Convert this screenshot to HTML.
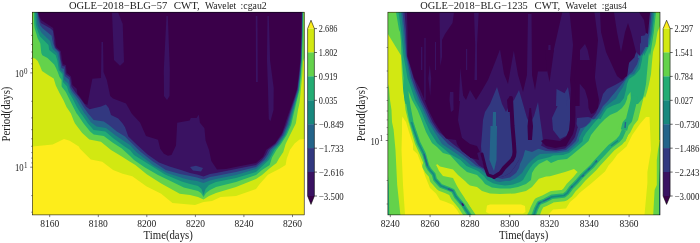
<!DOCTYPE html>
<html><head><meta charset="utf-8"><title>CWT</title>
<style>
html,body{margin:0;padding:0;background:#fff;}
svg{display:block;}
text{font-family:"Liberation Serif","DejaVu Serif",serif;fill:#222;}
</style></head><body>
<svg width="700" height="243" viewBox="0 0 700 243">
<defs><clipPath id="rclip"><rect x="387.9" y="12.2" width="272.1" height="202.7"/></clipPath></defs>
<rect width="700" height="243" fill="#fff"/>
<rect x="32.4" y="12.2" width="271.8" height="202.7" fill="#fded1b"/>
<polygon points="32.4,146.6 52.7,144.6 64.0,139.0 69.7,140.8 78.8,146.5 80.0,148.7 90.8,159.5 102.3,161.7 113.1,170.0 122.7,173.8 132.3,176.3 146.7,186.6 161.2,193.8 172.5,203.0 195.0,205.0 203.5,202.0 212.0,201.0 220.6,197.0 236.0,196.0 256.0,189.0 259.7,184.0 267.9,174.7 280.0,168.5 285.6,165.0 286.7,158.8 290.0,149.7 294.6,143.5 299.5,139.5 304.2,139.0 304.2,12.2 32.4,12.2" fill="#d2e812" />
<polygon points="32.4,57.9 35.1,58.4 37.7,61.0 40.0,66.0 42.0,71.0 48.0,75.0 53.7,78.6 55.9,85.8 59.5,93.0 63.6,100.6 66.5,107.1 70.9,113.6 73.7,120.8 75.0,123.6 82.2,133.0 89.4,139.5 100.9,141.7 111.0,150.0 121.8,156.6 130.0,161.7 135.4,165.0 146.7,174.3 161.2,183.5 179.7,193.8 190.0,195.0 198.0,197.0 203.5,199.5 209.0,196.0 216.0,193.0 236.0,187.0 256.0,179.0 262.0,175.0 270.0,168.0 276.5,163.0 278.8,158.8 283.3,152.0 285.6,144.0 290.0,135.0 295.8,123.6 298.0,110.0 299.6,102.4 301.0,88.0 302.3,75.0 303.0,62.0 304.2,58.0 304.2,12.2 32.4,12.2" fill="#64d24b" />
<polygon points="33.9,12.2 34.1,24.0 34.6,28.0 37.7,38.3 40.3,43.4 41.3,53.0 42.3,55.3 47.5,57.9 54.2,64.5 55.9,67.8 58.0,72.8 59.5,77.1 61.6,80.0 61.6,86.5 65.8,92.0 69.4,99.2 73.0,106.4 76.6,113.6 77.9,115.0 83.6,123.6 90.1,131.6 93.7,134.5 103.8,135.9 112.5,142.4 121.8,148.5 130.0,155.9 134.0,160.0 145.0,167.5 158.0,175.0 175.6,183.5 183.8,187.6 190.0,189.0 198.0,191.0 201.0,193.0 203.5,197.0 206.0,193.0 210.0,190.0 216.0,187.0 236.0,182.0 256.0,175.0 262.0,170.0 269.7,165.0 272.0,157.6 276.5,149.7 281.0,144.0 286.7,135.0 291.2,124.7 294.6,110.0 297.0,100.0 299.5,90.0 301.0,75.0 302.0,60.0 302.7,36.0 303.0,12.2" fill="#23ac73" />
<polygon points="35.1,12.2 35.8,24.4 36.7,28.0 39.8,36.2 48.5,45.0 49.2,50.1 55.7,55.3 57.3,60.4 58.8,70.0 62.5,74.5 63.0,82.0 67.0,86.5 68.7,92.0 73.0,99.2 76.6,106.4 80.9,113.6 82.2,115.0 88.0,123.6 93.7,130.1 105.3,131.6 113.9,138.8 125.0,146.7 130.0,150.1 134.0,155.0 150.0,165.0 165.0,174.5 181.7,181.5 190.0,184.0 198.0,186.0 201.5,189.0 203.5,195.0 205.5,189.0 209.0,185.0 216.0,182.0 236.0,178.0 256.0,172.0 268.9,160.0 271.6,155.0 274.5,149.7 279.6,144.0 285.5,135.0 289.9,124.7 291.4,119.0 293.6,110.0 296.3,100.0 298.9,90.0 300.5,75.0 301.7,60.0 302.4,36.0 302.7,12.2" fill="#18887e" />
<polygon points="36.4,12.2 37.5,24.4 38.7,28.0 41.8,33.1 50.1,40.9 51.3,45.0 52.8,49.0 57.3,53.2 58.8,60.4 60.3,70.0 63.5,73.0 64.0,80.0 68.0,83.5 70.9,92.0 75.9,99.2 80.2,106.4 84.5,113.6 85.8,115.0 90.9,122.2 96.6,126.5 106.0,128.0 115.3,135.2 125.0,141.7 130.0,145.1 136.3,152.0 153.0,165.0 167.0,173.0 184.0,178.5 190.0,180.0 197.0,181.0 203.5,183.0 210.0,180.5 216.0,179.0 236.0,175.0 256.0,169.0 266.6,160.0 269.7,155.0 272.4,149.7 278.2,144.0 284.3,135.0 288.7,124.7 290.2,119.0 292.7,110.0 295.6,100.0 298.3,90.0 300.1,75.0 301.3,60.0 302.1,36.0 302.5,12.2" fill="#24648a" />
<polygon points="37.4,12.2 38.7,20.3 40.3,25.4 42.3,28.0 51.6,35.7 52.3,40.0 53.1,43.4 53.7,45.0 54.7,48.1 58.8,52.2 60.3,60.4 61.4,68.0 64.0,69.0 64.7,76.0 69.0,79.5 70.4,88.0 73.0,92.0 78.8,99.2 83.1,106.4 88.1,113.6 89.4,115.0 93.7,120.0 103.8,121.5 108.9,125.1 116.8,131.6 125.0,136.6 130.0,141.5 140.8,152.0 152.2,161.0 165.8,170.0 180.0,174.0 190.0,176.0 197.0,177.5 203.5,179.5 210.0,177.0 216.0,176.0 236.0,172.0 256.0,167.0 264.2,160.0 267.7,155.0 270.4,149.7 276.8,144.0 283.1,135.0 287.4,124.7 289.0,119.0 291.7,110.0 294.8,100.0 297.8,90.0 299.6,75.0 301.0,60.0 301.8,36.0 302.2,12.2" fill="#323880" />
<polygon points="37.9,12.2 38.9,17.0 40.8,23.0 50.6,28.5 53.1,31.0 53.8,38.8 54.5,45.0 55.5,48.0 59.8,51.8 60.8,60.0 62.5,66.0 65.0,66.5 65.7,74.0 70.0,77.6 71.4,86.2 75.2,92.0 80.9,99.2 86.0,106.4 89.6,109.3 101.1,106.4 105.9,104.4 108.7,108.0 111.0,115.0 118.2,118.6 122.6,123.6 125.0,127.2 126.0,130.0 128.3,136.5 136.3,144.3 147.6,154.5 159.0,162.4 169.5,166.5 181.0,170.0 190.0,173.0 197.0,174.5 203.5,176.5 210.0,174.0 216.0,173.0 236.0,169.0 256.0,165.0 261.9,160.0 265.8,155.0 268.3,149.7 275.3,144.0 281.9,135.0 286.1,124.7 287.9,119.0 290.8,110.0 294.1,100.0 297.2,90.0 299.2,75.0 300.6,60.0 301.5,36.0 302.0,12.2" fill="#3a1262" />
<polygon points="38.2,12.2 39.3,16.2 41.3,20.3 53.1,28.0 54.2,35.0 55.2,38.8 55.7,45.0 56.7,47.6 60.9,51.2 61.9,59.4 63.0,64.2 65.9,64.9 66.7,72.8 71.0,76.4 72.4,85.0 76.7,88.7 77.5,94.0 79.5,96.3 84.5,103.5 87.4,105.0 89.6,93.0 92.4,78.8 101.0,78.0 101.5,42.0 103.0,42.0 103.5,72.0 106.8,80.0 110.2,95.9 113.0,98.6 126.0,103.6 131.8,113.7 140.0,122.4 146.0,135.9 158.0,139.7 160.2,148.8 163.9,153.8 167.9,155.8 171.5,155.0 176.0,145.4 177.2,122.7 189.7,120.4 190.8,118.1 196.5,118.1 198.8,114.7 199.9,122.7 204.4,128.3 205.6,140.8 209.0,149.9 211.3,161.0 217.0,169.5 226.0,169.0 238.0,166.5 256.0,163.0 263.0,157.0 266.3,149.7 275.4,142.9 282.2,132.7 286.7,119.0 291.0,106.7 294.6,96.6 297.2,88.0 300.2,62.0 301.1,38.0 301.7,12.2" fill="#3a0049" />
<polygon points="112.0,12.2 118.0,12.2 122.7,24.0 124.0,61.9 120.0,65.8 114.0,59.9" fill="#3a1262" />
<polygon points="166.5,16.0 167.8,16.0 169.8,70.0 169.5,96.0 167.0,100.0 164.0,96.0 163.8,70.0" fill="#3a1262" />
<polygon points="255.8,16.0 257.4,16.0 257.8,82.0 256.0,82.0" fill="#3a1262" />
<polygon points="267.5,16.0 268.8,16.0 270.0,60.0 273.7,88.0 273.5,110.0 270.5,121.0 268.8,119.0 268.0,88.0 267.0,60.0" fill="#3a1262" />
<polygon points="190.0,167.0 196.0,165.7 203.0,168.0 201.0,171.5 193.0,170.5" fill="#323880" />
<rect x="32.40" y="12.20" width="271.80" height="202.70" fill="none" stroke="#000" stroke-width="0.55"/>
<rect x="387.9" y="12.2" width="272.1" height="202.7" fill="#d2e812"/>
<g clip-path="url(#rclip)">
<polygon points="402.5,116.5 404.5,120.0 406.0,122.0 409.0,132.0 413.0,144.0 413.1,150.0 417.5,154.0 422.0,166.0 425.1,176.0 430.0,188.0 436.0,193.5 440.0,200.0 446.0,202.0 453.0,205.0 457.0,210.0 460.0,214.9 405.0,214.9 403.0,185.0 401.5,150.0 402.0,132.0 402.0,120.0" fill="#fded1b" />
<polygon points="487.0,205.5 490.0,204.6 521.0,204.6 525.0,206.0 525.5,212.0 523.0,213.6 489.0,213.6 486.0,212.0" fill="#fded1b" />
<polygon points="646.0,117.0 649.5,117.0 651.0,150.0 647.4,172.0 647.4,183.0 644.5,214.9 547.0,214.9 550.0,213.0 553.0,209.5 566.0,208.5 570.0,202.0 576.0,197.0 579.5,193.0 591.8,183.0 605.0,171.5 608.5,165.5 612.6,161.0 617.3,154.5 626.5,146.5 632.2,135.0 640.3,123.4" fill="#fded1b" />
<polygon points="387.9,84.0 389.0,88.0 390.0,100.0 391.5,110.0 392.0,122.0 393.6,129.4 395.5,150.0 397.2,185.0 400.4,214.9 387.9,214.9" fill="#64d24b" />
<polygon points="387.9,175.0 388.8,185.0 389.3,214.9 387.9,214.9" fill="#23ac73" />
<polygon points="660.0,60.0 659.2,70.0 659.0,140.0 660.0,140.0" fill="#64d24b" />
<polygon points="660.0,140.0 658.0,150.0 656.8,160.0 656.8,185.0 654.6,190.0 653.2,214.9 660.0,214.9" fill="#64d24b" />
<polygon points="660.0,168.0 659.0,185.0 659.0,214.9 660.0,214.9" fill="#18887e" />
<polygon points="387.9,12.2 387.9,34.0 401.0,55.5 402.0,78.0 403.0,88.0 404.5,100.0 405.5,110.0 408.0,120.0 411.5,132.0 415.0,144.0 419.5,154.0 424.5,166.0 428.0,169.0 433.0,170.0 437.0,164.0 440.0,166.5 453.0,169.5 458.0,175.0 465.0,181.0 468.0,184.0 470.0,185.5 477.0,187.0 482.0,191.0 490.0,193.5 500.0,194.0 515.0,193.5 526.0,191.0 532.0,187.0 538.9,178.8 546.1,176.6 550.0,176.3 565.0,171.9 574.0,169.1 580.0,174.0 586.0,172.5 591.8,166.9 598.7,160.0 615.0,139.6 621.0,137.0 625.0,142.0 628.0,135.0 630.0,133.0 634.0,125.0 638.0,120.0 641.0,108.0 644.0,96.0 645.0,98.0 647.0,92.0 649.0,84.0 651.0,74.0 652.0,62.0 653.0,52.0 655.5,44.0 657.5,32.0 660.0,26.0 660.0,12.2" fill="#64d24b" />
<polygon points="396.0,12.2 399.0,30.0 400.0,32.0 401.0,42.0 401.5,56.0 403.5,78.0 403.0,88.0 404.5,100.0 405.5,104.0 409.5,104.0 408.5,91.0 412.0,100.0 417.5,110.0 421.5,120.0 426.0,132.0 432.0,143.0 437.0,147.0 443.0,153.0 450.0,155.0 455.0,160.5 460.0,166.0 467.0,172.0 477.0,175.0 482.0,180.0 485.0,184.0 492.0,187.5 500.0,188.5 510.0,188.5 518.0,187.0 526.0,184.0 531.0,180.0 532.0,173.0 535.0,168.0 539.0,164.0 547.0,160.0 551.0,163.0 558.0,160.0 567.0,159.0 572.0,155.0 578.0,150.0 584.0,145.0 588.5,141.0 591.0,135.0 595.0,130.0 600.0,124.0 605.0,119.0 610.0,115.0 617.0,112.0 622.0,108.0 625.0,104.0 627.0,99.0 627.5,96.0 630.5,92.0 631.0,104.0 638.0,104.0 643.0,98.0 644.0,94.0 646.0,84.0 646.8,75.0 648.0,62.0 649.0,52.0 650.0,56.0 652.0,44.0 653.7,33.0 656.0,12.2" fill="#23ac73" />
<polygon points="398.5,12.2 401.0,30.0 403.5,56.0 407.5,78.0 411.0,88.0 415.0,100.0 420.5,110.0 425.5,122.0 430.0,132.0 437.0,143.0 450.0,154.0 460.5,160.0 466.5,166.0 478.0,171.0 484.0,176.0 487.0,180.0 493.0,183.3 498.0,184.5 505.0,185.5 513.0,184.5 520.0,182.0 523.0,180.0 527.0,173.0 530.0,168.0 533.0,164.0 538.0,160.0 550.0,157.0 553.0,155.5 563.0,155.0 569.0,153.0 575.0,148.0 582.5,141.5 583.0,138.0 586.0,133.0 590.0,128.0 594.0,123.0 598.0,118.5 600.5,119.0 604.0,113.0 607.0,108.5 613.0,105.5 620.0,103.0 624.0,98.0 625.0,94.0 626.0,90.0 627.0,84.0 629.0,79.0 635.0,75.0 640.0,69.0 642.0,60.0 643.0,52.0 644.0,56.0 650.0,44.0 652.2,33.0 654.5,12.2" fill="#18887e" />
<polygon points="401.0,12.2 403.0,30.0 405.5,56.0 410.0,78.0 413.5,88.0 418.0,100.0 423.0,110.0 428.5,122.0 434.5,132.0 442.0,144.0 457.0,154.0 465.0,160.0 471.0,165.5 480.0,169.0 486.0,174.0 492.0,178.0 496.0,181.3 500.0,182.0 505.0,181.0 510.0,181.0 516.0,178.0 522.0,173.0 525.0,168.0 528.0,164.0 532.0,160.0 536.0,156.5 540.0,154.0 550.0,153.5 558.0,153.0 568.0,151.5 574.0,146.0 579.0,141.0 579.0,138.0 582.0,132.0 585.0,127.5 590.0,123.0 594.0,118.5 597.0,119.5 601.5,113.0 605.0,107.0 610.0,103.0 616.0,98.5 619.0,93.0 623.0,87.0 626.0,80.0 630.0,75.0 634.0,74.0 638.0,67.0 640.0,60.0 641.0,52.0 642.0,56.0 648.5,44.0 650.9,33.0 653.0,12.2" fill="#24648a" />
<polygon points="402.5,12.2 404.5,30.0 406.5,56.0 411.5,78.0 415.0,88.0 420.0,100.0 425.0,110.0 430.5,122.0 437.0,132.0 448.0,144.0 462.0,154.0 469.5,160.0 476.0,165.5 483.0,169.0 488.0,173.0 493.0,176.5 502.0,179.0 510.0,177.5 516.0,173.0 519.0,168.0 520.0,164.0 522.0,160.0 523.5,156.0 525.0,150.0 527.0,145.0 530.0,143.0 536.0,148.0 546.0,151.0 556.0,151.5 566.0,150.0 572.0,145.0 576.0,141.0 577.0,138.0 579.0,132.0 581.0,127.0 587.0,123.0 591.0,118.5 594.0,119.5 599.0,113.0 603.0,106.0 608.0,101.0 611.0,97.0 614.0,93.5 621.0,85.0 625.0,80.0 628.5,75.0 632.0,72.0 637.0,64.0 638.0,57.0 639.0,52.0 640.5,56.0 647.0,44.0 649.5,33.0 651.5,12.2" fill="#323880" />
<polygon points="404.5,12.2 406.0,30.0 407.0,56.0 413.5,78.0 417.0,88.0 422.0,100.0 427.0,110.0 432.5,122.0 439.0,132.0 453.0,144.0 466.0,154.0 474.0,160.0 479.0,165.5 485.0,169.0 487.5,173.0 490.0,176.0 494.6,177.5 501.0,177.0 505.0,175.8 510.0,173.0 514.0,168.0 516.5,164.0 519.0,160.0 520.0,156.0 521.0,150.0 524.0,144.0 530.0,140.5 536.0,140.0 540.0,145.0 548.0,149.0 556.0,150.0 565.0,148.5 570.0,144.0 573.0,140.0 575.0,137.0 577.5,128.0 584.0,126.0 590.0,120.0 596.0,113.0 599.0,106.0 601.0,101.0 603.0,94.0 607.0,89.0 615.0,85.0 624.0,80.0 625.5,75.0 627.0,76.0 629.0,63.0 634.0,58.0 636.0,52.0 640.0,56.0 640.0,44.0 646.0,33.0 649.8,12.2" fill="#3a1262" />
<polygon points="407.0,12.2 407.5,30.0 407.5,56.0 414.0,78.0 419.5,88.0 424.5,100.0 428.5,110.0 434.5,122.0 441.0,132.0 446.0,138.5 456.0,140.0 457.0,144.0 462.0,151.0 471.0,158.0 479.0,160.0 476.0,148.0 468.0,146.0 462.0,138.0 458.0,120.0 460.0,100.0 462.0,94.0 466.0,100.0 470.0,90.0 476.0,100.0 481.0,92.0 488.0,80.0 494.0,65.0 500.0,49.6 504.0,74.0 508.0,84.0 513.8,50.8 518.0,75.0 523.0,92.0 527.0,75.0 528.0,14.0 531.5,14.0 532.0,75.0 535.0,90.0 538.0,71.5 547.0,71.5 548.5,45.0 550.5,45.0 551.0,62.0 556.0,40.0 562.3,12.2" fill="#3a0049" />
<polygon points="439.5,12.2 454.0,12.2 452.5,23.0 445.0,34.0 442.0,40.0 442.0,66.0 441.9,57.0 440.3,66.0" fill="#3a1262" />
<polygon points="474.0,12.2 478.7,12.2 477.0,45.0 477.0,80.0 474.5,80.0 475.2,45.0" fill="#3a1262" />
<polygon points="424.4,38.0 425.6,38.0 425.6,100.0 424.2,100.0" fill="#3a1262" />
<polygon points="421.0,47.0 422.3,47.0 422.3,70.0 421.0,70.0" fill="#3a1262" />
<polygon points="435.0,42.0 436.0,42.0 436.0,70.0 435.0,70.0" fill="#3a1262" />
<polygon points="466.0,49.0 467.2,49.0 467.2,70.0 466.0,70.0" fill="#3a1262" />
<polygon points="429.8,65.0 431.2,78.4 430.2,96.0 428.4,78.4" fill="#3a1262" />
<polygon points="460.3,68.0 462.6,91.0 463.8,101.0 459.0,101.0" fill="#3a1262" />
<polygon points="450.0,92.0 453.4,92.0 453.5,110.0 451.0,112.0 449.5,100.0" fill="#3a1262" />
<polygon points="569.5,12.2 594.5,12.2 598.0,40.0 594.5,82.0 587.6,50.0 585.0,44.0 580.0,50.0 579.6,106.0 572.6,106.0 570.0,80.0 573.0,45.0" fill="#3a0049" />
<polygon points="600.0,12.2 614.0,12.2 617.0,32.0 621.0,52.0 625.0,32.0 628.0,23.0 631.0,32.0 636.0,52.0 634.0,58.0 629.0,63.0 627.0,76.0 622.0,80.0 617.0,76.0 606.0,52.0 601.0,32.0" fill="#3a0049" />
<polygon points="545.0,50.0 554.0,50.0 549.6,82.0 547.0,70.0" fill="#3a0049" />
<polygon points="639.0,12.2 650.0,12.2 648.0,34.0 646.0,33.0 644.0,20.0" fill="#3a0049" />
<polygon points="485.0,112.0 490.0,104.0 497.0,87.0 502.0,104.0 506.0,112.0 510.0,104.0 514.0,100.0 519.0,90.0 523.0,104.0 527.0,118.0 530.0,124.0 534.0,116.0 538.0,102.0 540.0,118.0 542.0,132.0 543.0,141.0 540.0,148.0 532.0,152.0 525.0,150.0 521.0,156.0 519.0,160.0 516.5,164.0 514.0,168.0 510.0,173.0 505.0,175.8 501.0,177.0 494.6,177.5 490.0,176.0 487.5,173.0 485.0,169.0 482.0,160.0 481.0,146.0 482.0,134.0 483.0,120.0" fill="#323880" />
<polygon points="568.0,87.0 570.0,100.0 570.5,115.0 570.0,128.0 568.0,135.0 560.0,139.0 553.0,130.0 552.0,118.0 558.0,105.0" fill="#323880" />
<polygon points="556.5,89.0 568.0,95.0 566.0,106.0 556.0,106.0" fill="#323880" />
<polygon points="641.0,36.0 647.5,35.0 648.0,47.0 641.0,47.0" fill="#323880" />
<polygon points="629.0,63.0 634.0,58.0 639.0,58.0 637.0,64.0 632.0,72.0 628.0,75.0" fill="#323880" />
<polygon points="571.0,88.0 575.0,88.0 575.5,115.0 575.0,126.0 573.0,134.0 570.0,139.0 566.0,146.0 555.0,148.0 546.0,146.0 541.0,141.0 545.0,139.0 553.0,140.0 560.0,141.0 566.0,137.0 569.0,130.0 570.0,120.0 570.0,104.0" fill="#3a0049" />
<polygon points="578.0,60.0 592.0,60.0 596.0,84.0 599.0,100.0 598.0,108.0 594.0,113.0 591.0,114.0 588.5,108.0 588.0,100.0 585.0,90.0 580.0,84.0 576.0,84.0 574.0,80.0" fill="#3a0049" />
<polygon points="577.0,118.0 588.0,117.0 592.0,118.0 590.0,122.0 586.0,126.0 582.0,128.0 578.0,128.0 576.5,124.0" fill="#323880" />
<polygon points="490.5,126.0 497.0,126.0 496.5,160.0 494.0,171.0 489.5,160.0" fill="#24648a" />
<polygon points="493.0,112.0 496.0,112.0 496.0,128.0 492.5,128.0" fill="#24648a" />
<polyline points="511.0,98.0 512.5,126.0 514.0,144.0 514.5,152.0 514.0,156.0 512.0,160.0 508.0,164.0 504.0,168.0 500.5,173.0 494.0,177.0" fill="none" stroke="#3a0049" stroke-width="4.0" stroke-linejoin="round" stroke-linecap="round"/>
<polyline points="494.0,177.0 488.0,175.0 485.5,168.0 483.5,160.0 482.0,154.0" fill="none" stroke="#3a0049" stroke-width="3.0" stroke-linejoin="round" stroke-linecap="round"/>
<polygon points="457.0,142.0 462.0,138.0 470.0,144.0 477.0,146.0 480.0,152.0 477.0,153.0 471.0,158.0 462.0,151.0" fill="#3a0049" />
<polygon points="529.5,108.0 531.0,108.0 533.0,126.0 532.0,140.0 528.0,140.0 527.5,126.0" fill="#3a0049" />
<polygon points="507.0,100.0 510.0,96.0 512.0,100.0 511.0,112.0 508.0,112.0" fill="#3a0049" />
<polygon points="436.5,165.5 439.0,171.0 443.0,176.0 453.0,178.0 454.0,180.0 457.0,186.0 460.0,191.0 464.0,197.0 468.0,204.0 472.0,210.0 475.0,214.9 468.0,214.9 462.0,203.5 455.0,194.0 448.0,188.0 440.0,185.0 433.0,175.0 428.0,167.0" fill="#64d24b" />
<polyline points="427.5,166.0 429.5,169.5 433.7,174.4 435.0,179.3 440.8,185.8 448.0,188.7 453.0,190.9 455.9,196.6 460.2,201.7 463.1,205.3 466.0,210.0 470.5,216.5" fill="none" stroke="#64d24b" stroke-width="10.5" stroke-linejoin="round" stroke-linecap="round"/>
<polyline points="532.8,216.5 534.2,214.1 536.0,209.0 539.0,203.0 545.0,200.5 552.0,196.8 564.0,195.5 567.4,192.8 571.1,187.6 576.8,181.9 581.5,176.3 587.0,171.0 592.5,165.8 596.8,160.8 610.0,146.5 618.0,140.5 621.0,137.0 624.0,130.0 625.5,124.0 629.0,120.0" fill="none" stroke="#64d24b" stroke-width="11.5" stroke-linejoin="round" stroke-linecap="round"/>
<polyline points="406.0,96.0 407.2,98.0 409.2,110.0 411.5,122.0 414.7,132.0 418.5,143.0 424.0,154.0 427.5,166.0 429.5,169.5 433.7,174.4 435.0,179.3 440.8,185.8 448.0,188.7 453.0,190.9 455.9,196.6 460.2,201.7 463.1,205.3 466.0,210.0 470.5,216.5" fill="none" stroke="#23ac73" stroke-width="4.0" stroke-linejoin="round" stroke-linecap="butt"/>
<polyline points="532.8,216.5 534.2,214.1 536.0,209.0 539.0,203.0 545.0,200.5 552.0,196.8 564.0,195.5 567.4,192.8 571.1,187.6 576.8,181.9 581.5,176.3 587.0,171.0 592.5,165.8 596.8,160.8 610.0,146.5 618.0,140.5 621.0,137.0 624.0,130.0" fill="none" stroke="#23ac73" stroke-width="4.4" stroke-linejoin="round" stroke-linecap="butt"/>
<polyline points="624.0,130.0 625.5,124.0 629.0,120.0 632.0,108.0 635.0,96.0" fill="none" stroke="#23ac73" stroke-width="6.5" stroke-linejoin="round" stroke-linecap="butt"/>
<polyline points="411.5,122.0 414.7,132.0 418.5,143.0 424.0,154.0 427.5,166.0 429.5,169.5 433.7,174.4 435.0,179.3 440.8,185.8 448.0,188.7 453.0,190.9 455.9,196.6 460.2,201.7 463.1,205.3 466.0,210.0 470.5,216.5" fill="none" stroke="#18887e" stroke-width="1.6" stroke-linejoin="round" stroke-linecap="butt"/>
<polyline points="532.8,216.5 534.2,214.1 536.0,209.0 539.0,203.0 545.0,200.5 552.0,196.8 564.0,195.5 567.4,192.8 571.1,187.6 576.8,181.9 581.5,176.3 587.0,171.0 592.5,165.8 596.8,160.8" fill="none" stroke="#18887e" stroke-width="1.7" stroke-linejoin="round" stroke-linecap="butt"/>
<polyline points="424.0,154.0 427.5,166.0" fill="none" stroke="#24648a" stroke-width="1.4" stroke-linejoin="round" stroke-linecap="butt"/>
<polyline points="448.0,188.7 453.0,190.9" fill="none" stroke="#24648a" stroke-width="1.5" stroke-linejoin="round" stroke-linecap="butt"/>
<polyline points="460.2,201.7 463.1,205.3" fill="none" stroke="#24648a" stroke-width="1.6" stroke-linejoin="round" stroke-linecap="butt"/>
<polyline points="462.0,203.4 463.5,205.8" fill="none" stroke="#3a1262" stroke-width="1.6" stroke-linejoin="round" stroke-linecap="butt"/>
<polyline points="538.3,204.2 540.5,202.3" fill="none" stroke="#24648a" stroke-width="1.4" stroke-linejoin="round" stroke-linecap="butt"/>
<polyline points="543.5,201.0 550.0,198.0" fill="none" stroke="#24648a" stroke-width="1.3" stroke-linejoin="round" stroke-linecap="butt"/>
<polyline points="571.1,187.6 572.5,186.0" fill="none" stroke="#24648a" stroke-width="1.3" stroke-linejoin="round" stroke-linecap="butt"/>
<polyline points="588.0,170.0 590.0,168.0" fill="none" stroke="#24648a" stroke-width="1.3" stroke-linejoin="round" stroke-linecap="butt"/>
<polyline points="595.5,162.3 597.0,160.5" fill="none" stroke="#24648a" stroke-width="1.4" stroke-linejoin="round" stroke-linecap="butt"/>
<polyline points="582.0,176.7 584.0,175.0" fill="none" stroke="#24648a" stroke-width="1.3" stroke-linejoin="round" stroke-linecap="butt"/>
<polyline points="625.5,122.0 625.0,128.0" fill="none" stroke="#24648a" stroke-width="1.4" stroke-linejoin="round" stroke-linecap="butt"/>
<polyline points="611.0,146.0 618.0,140.5" fill="none" stroke="#18887e" stroke-width="1.4" stroke-linejoin="round" stroke-linecap="butt"/>
</g>
<rect x="387.90" y="12.20" width="272.10" height="202.70" fill="none" stroke="#000" stroke-width="0.55"/>
<polygon points="307.6,28.6 311.0,20.2 314.4,28.6" fill="#fded1b" />
<rect x="307.6" y="28.50" width="6.8" height="24.11" fill="#d2e812"/>
<rect x="307.6" y="52.41" width="6.8" height="24.11" fill="#64d24b"/>
<rect x="307.6" y="76.33" width="6.8" height="24.11" fill="#23ac73"/>
<rect x="307.6" y="100.24" width="6.8" height="24.11" fill="#18887e"/>
<rect x="307.6" y="124.16" width="6.8" height="24.11" fill="#24648a"/>
<rect x="307.6" y="148.07" width="6.8" height="24.11" fill="#323880"/>
<rect x="307.6" y="171.99" width="6.8" height="24.11" fill="#3a1262"/>
<polygon points="307.6,196.0 311.0,204.4 314.4,196.0" fill="#3a0049" />
<polygon points="307.6,28.6 311.0,20.2 314.4,28.6 314.4,196.0 311.0,204.4 307.6,196.0" fill="none" stroke="#000" stroke-width="0.55" stroke-linejoin="miter"/>
<line x1="314.4" y1="28.60" x2="317.0" y2="28.60" stroke="#000" stroke-width="0.6"/>
<text x="318.8" y="32.2" font-size="9.30" text-anchor="start" textLength="18.6" lengthAdjust="spacingAndGlyphs" >2.686</text>
<line x1="314.4" y1="52.51" x2="317.0" y2="52.51" stroke="#000" stroke-width="0.6"/>
<text x="318.8" y="56.1" font-size="9.30" text-anchor="start" textLength="18.6" lengthAdjust="spacingAndGlyphs" >1.802</text>
<line x1="314.4" y1="76.43" x2="317.0" y2="76.43" stroke="#000" stroke-width="0.6"/>
<text x="318.8" y="80.0" font-size="9.30" text-anchor="start" textLength="18.6" lengthAdjust="spacingAndGlyphs" >0.919</text>
<line x1="314.4" y1="100.34" x2="317.0" y2="100.34" stroke="#000" stroke-width="0.6"/>
<text x="318.8" y="103.9" font-size="9.30" text-anchor="start" textLength="18.6" lengthAdjust="spacingAndGlyphs" >0.035</text>
<line x1="314.4" y1="124.26" x2="317.0" y2="124.26" stroke="#000" stroke-width="0.6"/>
<text x="318.8" y="127.9" font-size="9.30" text-anchor="start" textLength="25.0" lengthAdjust="spacingAndGlyphs" >−0.849</text>
<line x1="314.4" y1="148.17" x2="317.0" y2="148.17" stroke="#000" stroke-width="0.6"/>
<text x="318.8" y="151.8" font-size="9.30" text-anchor="start" textLength="25.0" lengthAdjust="spacingAndGlyphs" >−1.733</text>
<line x1="314.4" y1="172.09" x2="317.0" y2="172.09" stroke="#000" stroke-width="0.6"/>
<text x="318.8" y="175.7" font-size="9.30" text-anchor="start" textLength="25.0" lengthAdjust="spacingAndGlyphs" >−2.616</text>
<line x1="314.4" y1="196.00" x2="317.0" y2="196.00" stroke="#000" stroke-width="0.6"/>
<text x="318.8" y="199.6" font-size="9.30" text-anchor="start" textLength="25.0" lengthAdjust="spacingAndGlyphs" >−3.500</text>
<polygon points="663.1,28.6 666.6,20.2 670.1,28.6" fill="#fded1b" />
<rect x="663.1" y="28.50" width="7.0" height="24.11" fill="#d2e812"/>
<rect x="663.1" y="52.41" width="7.0" height="24.11" fill="#64d24b"/>
<rect x="663.1" y="76.33" width="7.0" height="24.11" fill="#23ac73"/>
<rect x="663.1" y="100.24" width="7.0" height="24.11" fill="#18887e"/>
<rect x="663.1" y="124.16" width="7.0" height="24.11" fill="#24648a"/>
<rect x="663.1" y="148.07" width="7.0" height="24.11" fill="#323880"/>
<rect x="663.1" y="171.99" width="7.0" height="24.11" fill="#3a1262"/>
<polygon points="663.1,196.0 666.6,204.4 670.1,196.0" fill="#3a0049" />
<polygon points="663.1,28.6 666.6,20.2 670.1,28.6 670.1,196.0 666.6,204.4 663.1,196.0" fill="none" stroke="#000" stroke-width="0.55" stroke-linejoin="miter"/>
<line x1="670.1" y1="28.60" x2="672.7" y2="28.60" stroke="#000" stroke-width="0.6"/>
<text x="674.5" y="32.2" font-size="9.30" text-anchor="start" textLength="18.6" lengthAdjust="spacingAndGlyphs" >2.297</text>
<line x1="670.1" y1="52.51" x2="672.7" y2="52.51" stroke="#000" stroke-width="0.6"/>
<text x="674.5" y="56.1" font-size="9.30" text-anchor="start" textLength="18.6" lengthAdjust="spacingAndGlyphs" >1.541</text>
<line x1="670.1" y1="76.43" x2="672.7" y2="76.43" stroke="#000" stroke-width="0.6"/>
<text x="674.5" y="80.0" font-size="9.30" text-anchor="start" textLength="18.6" lengthAdjust="spacingAndGlyphs" >0.784</text>
<line x1="670.1" y1="100.34" x2="672.7" y2="100.34" stroke="#000" stroke-width="0.6"/>
<text x="674.5" y="103.9" font-size="9.30" text-anchor="start" textLength="18.6" lengthAdjust="spacingAndGlyphs" >0.027</text>
<line x1="670.1" y1="124.26" x2="672.7" y2="124.26" stroke="#000" stroke-width="0.6"/>
<text x="674.5" y="127.9" font-size="9.30" text-anchor="start" textLength="25.0" lengthAdjust="spacingAndGlyphs" >−0.730</text>
<line x1="670.1" y1="148.17" x2="672.7" y2="148.17" stroke="#000" stroke-width="0.6"/>
<text x="674.5" y="151.8" font-size="9.30" text-anchor="start" textLength="25.0" lengthAdjust="spacingAndGlyphs" >−1.486</text>
<line x1="670.1" y1="172.09" x2="672.7" y2="172.09" stroke="#000" stroke-width="0.6"/>
<text x="674.5" y="175.7" font-size="9.30" text-anchor="start" textLength="25.0" lengthAdjust="spacingAndGlyphs" >−2.243</text>
<line x1="670.1" y1="196.00" x2="672.7" y2="196.00" stroke="#000" stroke-width="0.6"/>
<text x="674.5" y="199.6" font-size="9.30" text-anchor="start" textLength="25.0" lengthAdjust="spacingAndGlyphs" >−3.000</text>
<line x1="49.7" y1="214.9" x2="49.7" y2="217.1" stroke="#000" stroke-width="0.5"/>
<text x="49.7" y="226.8" font-size="9.50" text-anchor="middle" textLength="19.0" lengthAdjust="spacingAndGlyphs" >8160</text>
<line x1="98.3" y1="214.9" x2="98.3" y2="217.1" stroke="#000" stroke-width="0.5"/>
<text x="98.3" y="226.8" font-size="9.50" text-anchor="middle" textLength="19.0" lengthAdjust="spacingAndGlyphs" >8180</text>
<line x1="146.8" y1="214.9" x2="146.8" y2="217.1" stroke="#000" stroke-width="0.5"/>
<text x="146.8" y="226.8" font-size="9.50" text-anchor="middle" textLength="19.0" lengthAdjust="spacingAndGlyphs" >8200</text>
<line x1="195.4" y1="214.9" x2="195.4" y2="217.1" stroke="#000" stroke-width="0.5"/>
<text x="195.4" y="226.8" font-size="9.50" text-anchor="middle" textLength="19.0" lengthAdjust="spacingAndGlyphs" >8220</text>
<line x1="243.9" y1="214.9" x2="243.9" y2="217.1" stroke="#000" stroke-width="0.5"/>
<text x="243.9" y="226.8" font-size="9.50" text-anchor="middle" textLength="19.0" lengthAdjust="spacingAndGlyphs" >8240</text>
<line x1="292.5" y1="214.9" x2="292.5" y2="217.1" stroke="#000" stroke-width="0.5"/>
<text x="292.5" y="226.8" font-size="9.50" text-anchor="middle" textLength="19.0" lengthAdjust="spacingAndGlyphs" >8260</text>
<line x1="390.3" y1="214.9" x2="390.3" y2="217.1" stroke="#000" stroke-width="0.5"/>
<text x="390.3" y="226.8" font-size="9.50" text-anchor="middle" textLength="19.0" lengthAdjust="spacingAndGlyphs" >8240</text>
<line x1="430.1" y1="214.9" x2="430.1" y2="217.1" stroke="#000" stroke-width="0.5"/>
<text x="430.1" y="226.8" font-size="9.50" text-anchor="middle" textLength="19.0" lengthAdjust="spacingAndGlyphs" >8260</text>
<line x1="469.9" y1="214.9" x2="469.9" y2="217.1" stroke="#000" stroke-width="0.5"/>
<text x="469.9" y="226.8" font-size="9.50" text-anchor="middle" textLength="19.0" lengthAdjust="spacingAndGlyphs" >8280</text>
<line x1="509.7" y1="214.9" x2="509.7" y2="217.1" stroke="#000" stroke-width="0.5"/>
<text x="509.7" y="226.8" font-size="9.50" text-anchor="middle" textLength="19.0" lengthAdjust="spacingAndGlyphs" >8300</text>
<line x1="549.5" y1="214.9" x2="549.5" y2="217.1" stroke="#000" stroke-width="0.5"/>
<text x="549.5" y="226.8" font-size="9.50" text-anchor="middle" textLength="19.0" lengthAdjust="spacingAndGlyphs" >8320</text>
<line x1="589.3" y1="214.9" x2="589.3" y2="217.1" stroke="#000" stroke-width="0.5"/>
<text x="589.3" y="226.8" font-size="9.50" text-anchor="middle" textLength="19.0" lengthAdjust="spacingAndGlyphs" >8340</text>
<line x1="629.1" y1="214.9" x2="629.1" y2="217.1" stroke="#000" stroke-width="0.5"/>
<text x="629.1" y="226.8" font-size="9.50" text-anchor="middle" textLength="19.0" lengthAdjust="spacingAndGlyphs" >8360</text>
<line x1="30.2" y1="72.9" x2="32.4" y2="72.9" stroke="#000" stroke-width="0.5"/>
<text x="14.9" y="77.1" font-size="10.20" text-anchor="start" textLength="8.7" lengthAdjust="spacingAndGlyphs" >10</text>
<text x="23.9" y="73.5" font-size="7.40" text-anchor="start" textLength="3.5" lengthAdjust="spacingAndGlyphs" >0</text>
<line x1="30.2" y1="167.2" x2="32.4" y2="167.2" stroke="#000" stroke-width="0.5"/>
<text x="14.9" y="171.4" font-size="10.20" text-anchor="start" textLength="8.7" lengthAdjust="spacingAndGlyphs" >10</text>
<text x="23.9" y="167.8" font-size="7.40" text-anchor="start" textLength="3.5" lengthAdjust="spacingAndGlyphs" >1</text>
<line x1="31.1" y1="23.6" x2="32.4" y2="23.6" stroke="#000" stroke-width="0.4"/>
<line x1="31.1" y1="35.4" x2="32.4" y2="35.4" stroke="#000" stroke-width="0.4"/>
<line x1="31.1" y1="44.5" x2="32.4" y2="44.5" stroke="#000" stroke-width="0.4"/>
<line x1="31.1" y1="52.0" x2="32.4" y2="52.0" stroke="#000" stroke-width="0.4"/>
<line x1="31.1" y1="58.3" x2="32.4" y2="58.3" stroke="#000" stroke-width="0.4"/>
<line x1="31.1" y1="63.8" x2="32.4" y2="63.8" stroke="#000" stroke-width="0.4"/>
<line x1="31.1" y1="68.6" x2="32.4" y2="68.6" stroke="#000" stroke-width="0.4"/>
<line x1="31.1" y1="101.3" x2="32.4" y2="101.3" stroke="#000" stroke-width="0.4"/>
<line x1="31.1" y1="117.9" x2="32.4" y2="117.9" stroke="#000" stroke-width="0.4"/>
<line x1="31.1" y1="129.7" x2="32.4" y2="129.7" stroke="#000" stroke-width="0.4"/>
<line x1="31.1" y1="138.8" x2="32.4" y2="138.8" stroke="#000" stroke-width="0.4"/>
<line x1="31.1" y1="146.3" x2="32.4" y2="146.3" stroke="#000" stroke-width="0.4"/>
<line x1="31.1" y1="152.6" x2="32.4" y2="152.6" stroke="#000" stroke-width="0.4"/>
<line x1="31.1" y1="158.1" x2="32.4" y2="158.1" stroke="#000" stroke-width="0.4"/>
<line x1="31.1" y1="162.9" x2="32.4" y2="162.9" stroke="#000" stroke-width="0.4"/>
<line x1="31.1" y1="195.6" x2="32.4" y2="195.6" stroke="#000" stroke-width="0.4"/>
<line x1="31.1" y1="212.2" x2="32.4" y2="212.2" stroke="#000" stroke-width="0.4"/>
<line x1="385.7" y1="140.5" x2="387.9" y2="140.5" stroke="#000" stroke-width="0.5"/>
<text x="370.4" y="144.7" font-size="10.20" text-anchor="start" textLength="8.7" lengthAdjust="spacingAndGlyphs" >10</text>
<text x="379.4" y="141.1" font-size="7.40" text-anchor="start" textLength="3.5" lengthAdjust="spacingAndGlyphs" >1</text>
<line x1="386.6" y1="47.5" x2="387.9" y2="47.5" stroke="#000" stroke-width="0.4"/>
<line x1="386.6" y1="71.0" x2="387.9" y2="71.0" stroke="#000" stroke-width="0.4"/>
<line x1="386.6" y1="87.6" x2="387.9" y2="87.6" stroke="#000" stroke-width="0.4"/>
<line x1="386.6" y1="100.5" x2="387.9" y2="100.5" stroke="#000" stroke-width="0.4"/>
<line x1="386.6" y1="111.0" x2="387.9" y2="111.0" stroke="#000" stroke-width="0.4"/>
<line x1="386.6" y1="119.9" x2="387.9" y2="119.9" stroke="#000" stroke-width="0.4"/>
<line x1="386.6" y1="127.6" x2="387.9" y2="127.6" stroke="#000" stroke-width="0.4"/>
<line x1="386.6" y1="134.4" x2="387.9" y2="134.4" stroke="#000" stroke-width="0.4"/>
<line x1="386.6" y1="180.5" x2="387.9" y2="180.5" stroke="#000" stroke-width="0.4"/>
<line x1="386.6" y1="204.0" x2="387.9" y2="204.0" stroke="#000" stroke-width="0.4"/>
<text x="68.9" y="8.7" font-size="9.80" text-anchor="start" textLength="98.3" lengthAdjust="spacingAndGlyphs" >OGLE−2018−BLG−57</text>
<text x="173.7" y="8.7" font-size="9.80" text-anchor="start" textLength="26.1" lengthAdjust="spacingAndGlyphs" >CWT,</text>
<text x="204.9" y="8.7" font-size="9.80" text-anchor="start" textLength="31.4" lengthAdjust="spacingAndGlyphs" >Wavelet</text>
<text x="240.6" y="8.7" font-size="9.80" text-anchor="start" textLength="26.1" lengthAdjust="spacingAndGlyphs" >:cgau2</text>
<text x="420.3" y="8.7" font-size="9.80" text-anchor="start" textLength="107.5" lengthAdjust="spacingAndGlyphs" >OGLE−2018−BLG−1235</text>
<text x="534.6" y="8.7" font-size="9.80" text-anchor="start" textLength="25.7" lengthAdjust="spacingAndGlyphs" >CWT,</text>
<text x="565.5" y="8.7" font-size="9.80" text-anchor="start" textLength="31.2" lengthAdjust="spacingAndGlyphs" >Wavelet</text>
<text x="601.8" y="8.7" font-size="9.80" text-anchor="start" textLength="24.9" lengthAdjust="spacingAndGlyphs" >:gaus4</text>
<text x="143.6" y="239.1" font-size="12.10" text-anchor="start" textLength="49.2" lengthAdjust="spacingAndGlyphs" >Time(days)</text>
<text x="499.0" y="239.1" font-size="12.10" text-anchor="start" textLength="49.3" lengthAdjust="spacingAndGlyphs" >Time(days)</text>
<text transform="translate(9.6,141.4) rotate(-90)" font-size="12.1" textLength="54.8" lengthAdjust="spacingAndGlyphs">Period(days)</text>
<text transform="translate(365.2,141.3) rotate(-90)" font-size="12.1" textLength="54.8" lengthAdjust="spacingAndGlyphs">Period(days)</text>
</svg>
</body></html>
